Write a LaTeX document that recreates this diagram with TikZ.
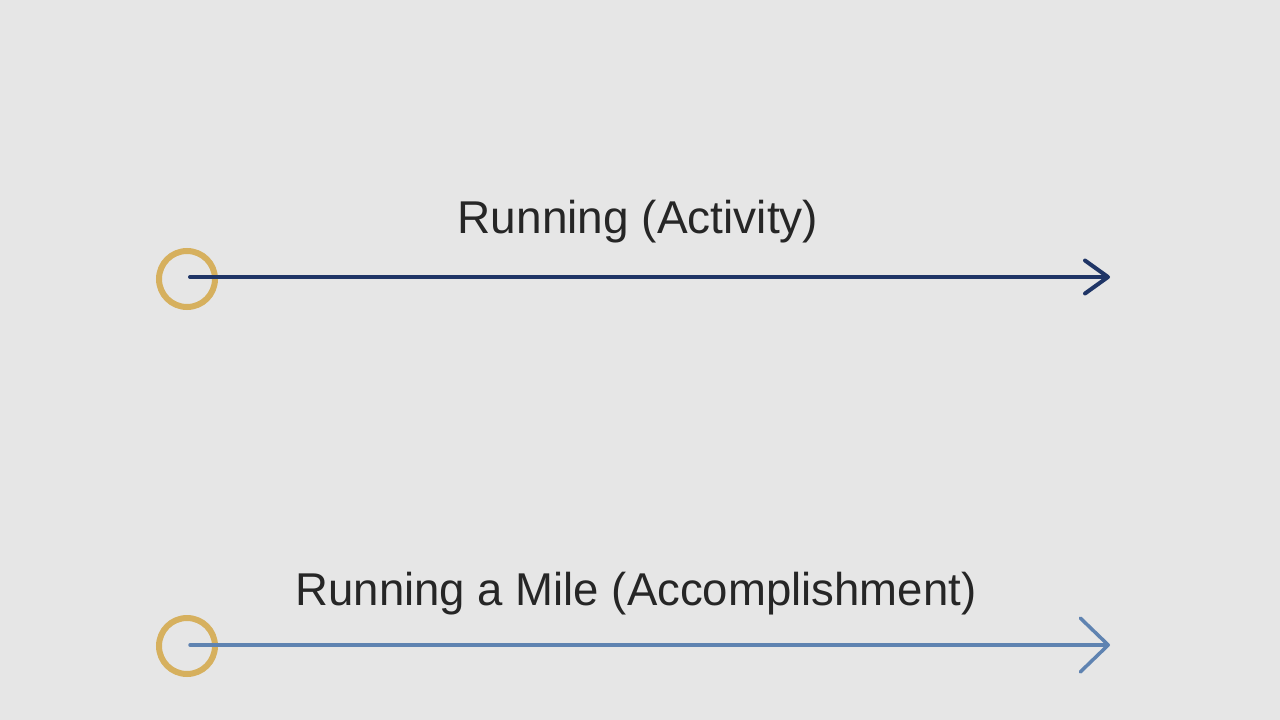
\documentclass[tikz,border=0pt]{standalone}
\usepackage{fontspec}
\setmainfont{Liberation Sans}
\usetikzlibrary{arrows.meta}
\definecolor{bg}{HTML}{E6E6E6}
\definecolor{gold}{HTML}{D6B05E}
\definecolor{navy}{HTML}{1F3566}
\definecolor{steel}{HTML}{5F83B1}
\definecolor{ink}{HTML}{262626}
\tikzset{
  origin/.style={circle, draw=gold, line width=6pt, minimum size=56pt, inner sep=0pt},
  label text/.style={font=\fontsize{46}{50}\selectfont, text=ink, anchor=base, inner sep=0pt},
  timeline/.style={line width=4pt, line cap=round, line join=round},
}
\begin{document}
\begin{tikzpicture}[x=1pt,y=-1pt]
\fill[bg] (0,0) rectangle (1280,720);
\useasboundingbox (0,0) rectangle (1280,720);

\node[label text] (t1) at (638,233) {Running (Activity)};
\node[origin] (s1) at (187,279) {};
\coordinate (e1) at (1110,277);
\draw[timeline, navy, -{Straight Barb[length=23pt,width=33pt,round]}] (s1.center) ++(3,-2) -- (e1);

\node[label text, xscale=0.99] (t2) at (636,605) {Running a Mile (Accomplishment)};
\node[origin] (s2) at (187,646) {};
\coordinate (e2) at (1110,645);
\draw[timeline, line width=3.5pt, steel, -{Straight Barb[length=28pt,width=54pt,round]}] (s2.center) ++(3,-1) -- (e2);
\end{tikzpicture}
\end{document}
